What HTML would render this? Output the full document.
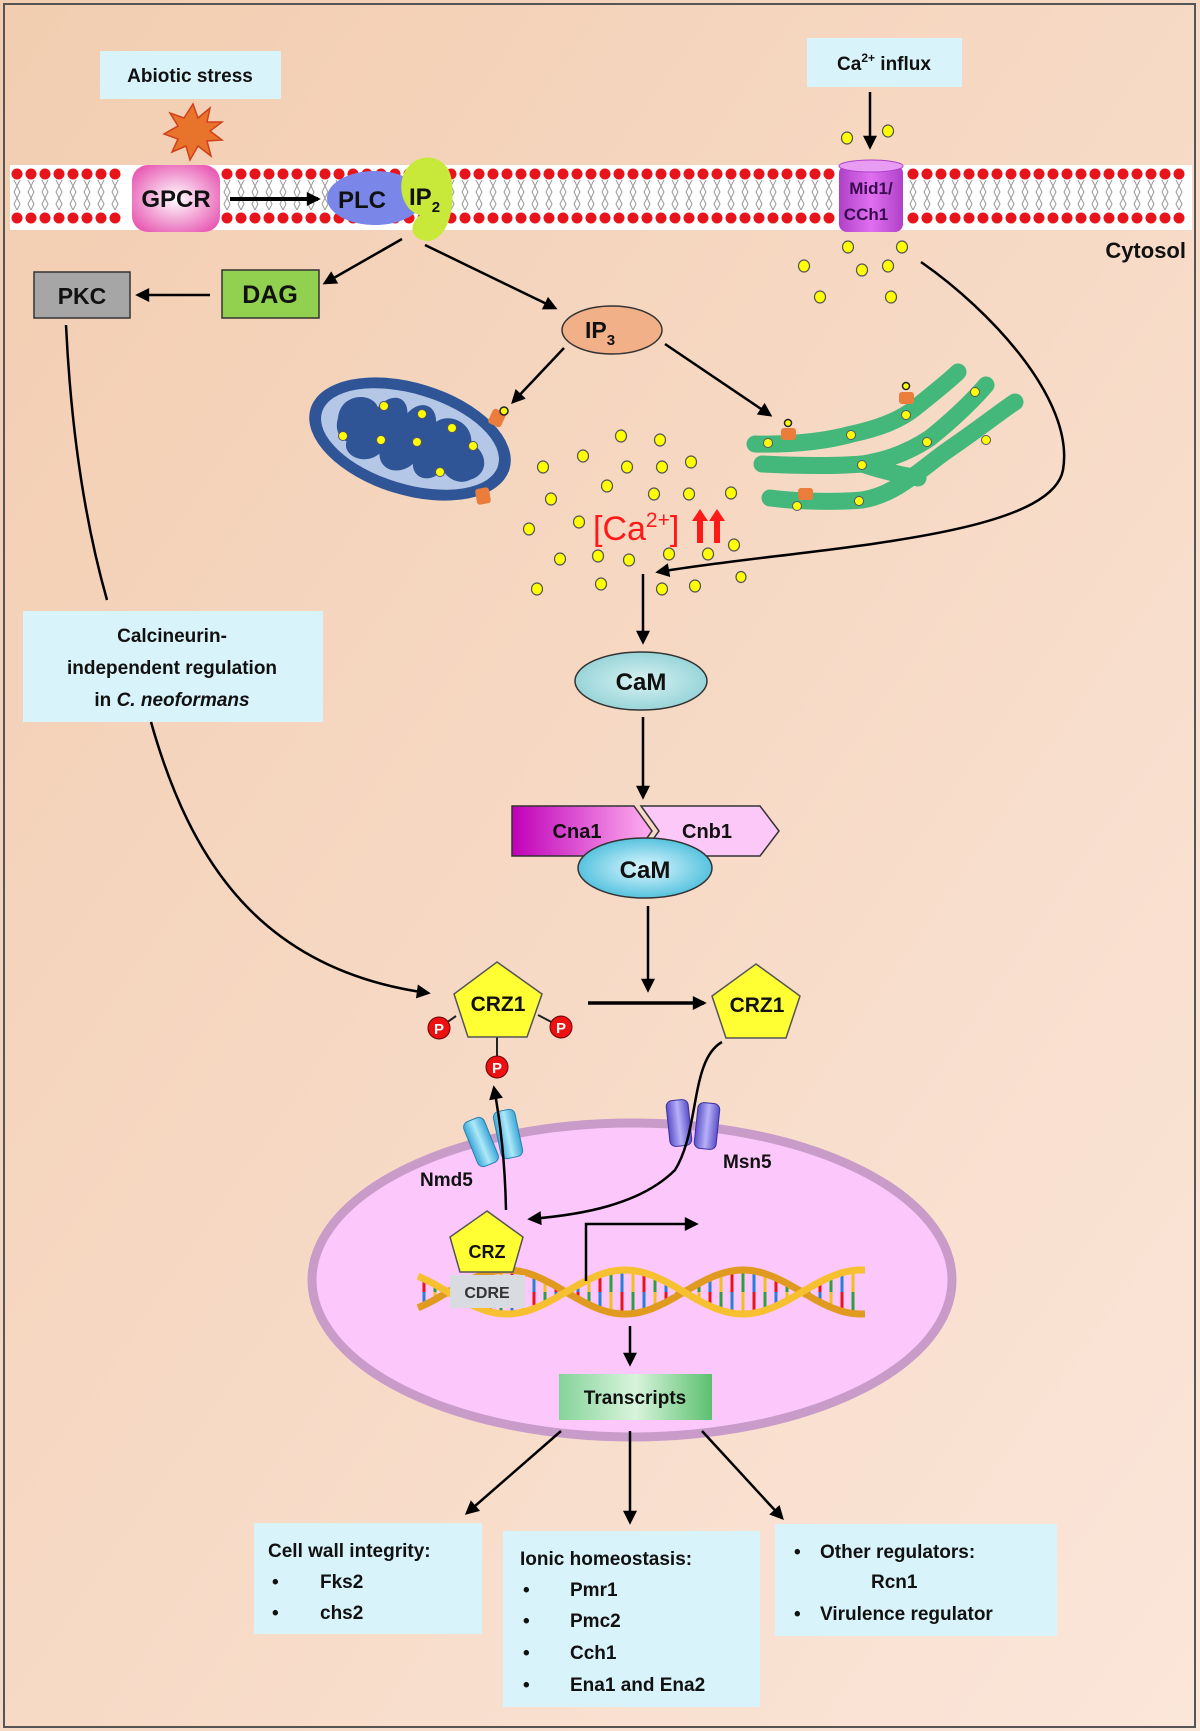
<!DOCTYPE html>
<html><head><meta charset="utf-8"><style>
html,body{margin:0;padding:0;}
svg{display:block;}
text{font-family:"Liberation Sans",sans-serif;font-weight:bold;fill:#111;}
</style></head><body>
<svg width="1200" height="1731" viewBox="0 0 1200 1731" xmlns="http://www.w3.org/2000/svg">
<defs>
<linearGradient id="bg" x1="0" y1="0" x2="1" y2="1">
<stop offset="0" stop-color="#f2cdb0"/><stop offset="1" stop-color="#fbe6da"/></linearGradient>
<radialGradient id="gpcr" cx="0.5" cy="0.5" r="0.6"><stop offset="0" stop-color="#fff"/><stop offset="1" stop-color="#e85cb4"/></radialGradient>
<radialGradient id="cam" cx="0.5" cy="0.5" r="0.6"><stop offset="0" stop-color="#dff8ff"/><stop offset="1" stop-color="#3cb8d8"/></radialGradient>
<radialGradient id="cam1" cx="0.5" cy="0.5" r="0.6"><stop offset="0" stop-color="#d8f2f2"/><stop offset="1" stop-color="#8ccfd4"/></radialGradient>
<linearGradient id="cna" x1="0" x2="1"><stop offset="0" stop-color="#c000b8"/><stop offset="1" stop-color="#ffb0f0"/></linearGradient>
<linearGradient id="tr" x1="0" x2="1"><stop offset="0" stop-color="#86d39a"/><stop offset="0.5" stop-color="#d8f4dc"/><stop offset="1" stop-color="#5cc070"/></linearGradient>
<linearGradient id="mid" x1="0" x2="1"><stop offset="0" stop-color="#b040c8"/><stop offset="0.5" stop-color="#e070f0"/><stop offset="1" stop-color="#b040c8"/></linearGradient>
<linearGradient id="chn" x1="0" x2="1"><stop offset="0" stop-color="#3ba8d8"/><stop offset="0.5" stop-color="#aee8f8"/><stop offset="1" stop-color="#3ba8d8"/></linearGradient>
<linearGradient id="chm" x1="0" x2="1"><stop offset="0" stop-color="#5a50c8"/><stop offset="0.5" stop-color="#b8b0f8"/><stop offset="1" stop-color="#5a50c8"/></linearGradient>
<marker id="ah" viewBox="0 0 10 10" refX="9" refY="5" markerWidth="5" markerHeight="5" orient="auto-start-reverse" markerUnits="userSpaceOnUse" style="overflow:visible">
<path d="M0,0 L10,5 L0,10 z" fill="#000"/></marker>
<marker id="a" viewBox="0 0 10 10" refX="8" refY="5" markerWidth="16" markerHeight="14" orient="auto" markerUnits="userSpaceOnUse"><path d="M0,0 L10,5 L0,10 z" fill="#000"/></marker>
<pattern id="dots" x="10" y="0" width="14" height="60" patternUnits="userSpaceOnUse">
<path d="M4,180 l3,5 -3,5 3,5 -3,5 3,5 -3,5 M10,180 l-3,5 3,5 -3,5 3,5 -3,5 3,5" stroke="#888" fill="none" stroke-width="1"/>
</pattern>
</defs>
<rect width="1200" height="1731" fill="url(#bg)"/>
<rect x="4" y="4" width="1191" height="1723" fill="none" stroke="#555" stroke-width="2"/>

<!-- membrane -->
<rect x="10" y="165" width="1182" height="65" fill="#fff"/>
<g stroke="#999" stroke-width="1" fill="none" id="tails">
<path d="M10,186 h1182 M10,196 h1182 M10,206" stroke="none"/>
</g>
<g id="mem"></g>

<!-- Abiotic stress -->
<rect x="100" y="51" width="181" height="48" fill="#d9f3fb"/>
<text x="190" y="82" font-size="19" text-anchor="middle">Abiotic stress</text>
<polygon points="193,104 198,118 210,108 207,122 222,122 210,131 222,140 207,141 211,156 198,146 190,160 186,146 172,152 178,139 164,134 178,126 170,113 184,118" fill="#e8742c" stroke="#d0401c" stroke-width="1.5"/>

<!-- Ca influx -->
<rect x="807" y="38" width="155" height="49" fill="#d9f3fb"/>
<text x="884" y="70" font-size="19" text-anchor="middle">Ca<tspan dy="-8" font-size="12">2+</tspan><tspan dy="8"> influx</tspan></text>
<line x1="870" y1="92" x2="870" y2="147" stroke="#000" stroke-width="2.5" marker-end="url(#a)"/>

<!-- GPCR -->
<rect x="132" y="165" width="88" height="67" rx="16" fill="url(#gpcr)"/>
<text x="176" y="207" font-size="24" text-anchor="middle">GPCR</text>
<line x1="230" y1="199" x2="318" y2="199" stroke="#000" stroke-width="4" marker-end="url(#a)"/>
<!-- PLC / IP2 -->
<ellipse cx="375" cy="198" rx="48" ry="27" fill="#7a86e8"/>
<path d="M410,165 C425,150 452,158 452,185 C455,215 445,240 428,241 C410,240 408,225 420,215 C400,210 395,178 410,165 z" fill="#c8e83a"/>
<text x="362" y="208" font-size="24" text-anchor="middle">PLC</text>
<text x="409" y="205" font-size="24">IP<tspan dy="7" font-size="15">2</tspan></text>

<!-- Mid1 -->
<rect x="839" y="165" width="64" height="67" rx="8" fill="url(#mid)"/>
<ellipse cx="871" cy="166" rx="32" ry="6" fill="#e89cf4" stroke="#b040c8"/>
<text x="871" y="194" font-size="17" text-anchor="middle" fill="#401050" style="fill:#3a0a50">Mid1/</text>
<text x="866" y="220" font-size="17" text-anchor="middle" style="fill:#3a0a50">CCh1</text>
<text x="1186" y="258" font-size="22" text-anchor="end">Cytosol</text>

<!-- DAG PKC -->
<line x1="402" y1="239" x2="325" y2="283" stroke="#000" stroke-width="2.5" marker-end="url(#a)"/>
<rect x="222" y="270" width="97" height="48" fill="#92d050" stroke="#333" stroke-width="1.5"/>
<text x="270" y="303" font-size="25" text-anchor="middle">DAG</text>
<line x1="210" y1="295" x2="138" y2="295" stroke="#000" stroke-width="2.5" marker-end="url(#a)"/>
<rect x="34" y="272" width="96" height="46" fill="#a6a6a6" stroke="#333" stroke-width="1.5"/>
<text x="82" y="304" font-size="23" text-anchor="middle">PKC</text>

<!-- IP3 -->
<line x1="425" y1="245" x2="555" y2="308" stroke="#000" stroke-width="2.5" marker-end="url(#a)"/>
<ellipse cx="612" cy="330" rx="50" ry="24" fill="#f2b088" stroke="#333" stroke-width="1.5"/>
<text x="600" y="338" font-size="23" text-anchor="middle">IP<tspan dy="7" font-size="15">3</tspan></text>
<line x1="564" y1="348" x2="513" y2="402" stroke="#000" stroke-width="2.5" marker-end="url(#a)"/>
<line x1="665" y1="344" x2="770" y2="415" stroke="#000" stroke-width="2.5" marker-end="url(#a)"/>

<!-- mitochondrion -->
<g transform="rotate(17 410 439)">
<ellipse cx="410" cy="439" rx="104" ry="56" fill="#2f5597"/>
<ellipse cx="410" cy="439" rx="92" ry="45" fill="#b4c7e7"/>
<path d="M335,440 C330,415 360,405 370,418 C378,400 395,398 400,415 C408,398 425,398 430,415 C440,402 465,405 470,425 C490,430 495,450 480,460 C470,470 455,465 450,458 C445,475 425,478 420,462 C410,478 390,478 385,462 C375,478 350,475 350,460 C340,458 335,450 335,440 z" fill="#2f5597"/>
</g>
<g fill="#ffff00" stroke="#556" stroke-width="1">
<circle cx="384" cy="406" r="4.5"/><circle cx="422" cy="414" r="4.5"/><circle cx="452" cy="428" r="4.5"/><circle cx="343" cy="436" r="4.5"/><circle cx="381" cy="440" r="4.5"/><circle cx="417" cy="442" r="4.5"/><circle cx="473" cy="446" r="4.5"/><circle cx="440" cy="472" r="4.5"/>
</g>
<rect x="490" y="410" width="14" height="16" rx="3" fill="#ea7d3c" transform="rotate(25 497 418)"/>
<rect x="476" y="488" width="14" height="16" rx="3" fill="#ea7d3c" transform="rotate(-10 483 496)"/>
<circle cx="504" cy="411" r="4" fill="#ffff00" stroke="#222" stroke-width="1.5"/>

<!-- ER -->
<g fill="none" stroke="#44b87a" stroke-width="17" stroke-linecap="round" stroke-linejoin="round">
<path d="M755,444 C800,445 830,440 852,434 C880,428 900,420 915,408 C935,392 950,380 958,372"/>
<path d="M762,464 C800,466 840,466 862,464 C890,460 912,450 930,438 C955,418 975,398 986,385"/>
<path d="M770,498 C800,502 840,502 862,500 C895,495 920,470 945,452 C980,428 1000,412 1015,402"/>
<path d="M862,464 C880,470 900,475 918,478"/>
</g>
<g fill="#ffff00" stroke="#556" stroke-width="1">
<circle cx="768" cy="443" r="4.5"/><circle cx="851" cy="435" r="4.5"/><circle cx="906" cy="415" r="4.5"/><circle cx="975" cy="392" r="4.5"/><circle cx="862" cy="465" r="4.5"/><circle cx="927" cy="442" r="4.5"/><circle cx="986" cy="440" r="4.5"/><circle cx="797" cy="506" r="4.5"/><circle cx="859" cy="501" r="4.5"/>
</g>
<rect x="781" y="428" width="15" height="12" rx="3" fill="#ea7d3c"/><circle cx="788" cy="423" r="3.5" fill="#ffff00" stroke="#222" stroke-width="1.5"/>
<rect x="899" y="392" width="15" height="12" rx="3" fill="#ea7d3c"/><circle cx="906" cy="386" r="3.5" fill="#ffff00" stroke="#222" stroke-width="1.5"/>
<rect x="798" y="488" width="15" height="12" rx="3" fill="#ea7d3c"/>

<!-- Ca dots -->
<g fill="#ffff00" stroke="#555" stroke-width="1.2">
<ellipse cx="847" cy="138" rx="5.5" ry="6"/><ellipse cx="888" cy="131" rx="5.5" ry="6"/>
<ellipse cx="848" cy="247" rx="5.5" ry="6"/><ellipse cx="902" cy="247" rx="5.5" ry="6"/><ellipse cx="804" cy="266" rx="5.5" ry="6"/><ellipse cx="862" cy="270" rx="5.5" ry="6"/><ellipse cx="888" cy="266" rx="5.5" ry="6"/><ellipse cx="820" cy="297" rx="5.5" ry="6"/><ellipse cx="891" cy="297" rx="5.5" ry="6"/>
<ellipse cx="621" cy="436" rx="5.5" ry="6"/><ellipse cx="660" cy="440" rx="5.5" ry="6"/><ellipse cx="583" cy="456" rx="5.5" ry="6"/><ellipse cx="543" cy="467" rx="5.5" ry="6"/><ellipse cx="627" cy="467" rx="5.5" ry="6"/><ellipse cx="662" cy="467" rx="5.5" ry="6"/><ellipse cx="691" cy="462" rx="5.5" ry="6"/><ellipse cx="607" cy="486" rx="5.5" ry="6"/><ellipse cx="654" cy="494" rx="5.5" ry="6"/><ellipse cx="689" cy="494" rx="5.5" ry="6"/><ellipse cx="731" cy="493" rx="5.5" ry="6"/><ellipse cx="551" cy="499" rx="5.5" ry="6"/><ellipse cx="529" cy="529" rx="5.5" ry="6"/><ellipse cx="579" cy="522" rx="5.5" ry="6"/><ellipse cx="734" cy="545" rx="5.5" ry="6"/><ellipse cx="560" cy="559" rx="5.5" ry="6"/><ellipse cx="598" cy="556" rx="5.5" ry="6"/><ellipse cx="629" cy="560" rx="5.5" ry="6"/><ellipse cx="669" cy="554" rx="5.5" ry="6"/><ellipse cx="708" cy="554" rx="5.5" ry="6"/><ellipse cx="741" cy="577" rx="5" ry="5.5"/><ellipse cx="537" cy="589" rx="5.5" ry="6"/><ellipse cx="601" cy="584" rx="5.5" ry="6"/><ellipse cx="662" cy="589" rx="5.5" ry="6"/><ellipse cx="695" cy="586" rx="5.5" ry="6"/>
</g>
<text x="593" y="540" font-size="34" style="fill:#ff1a1a;font-weight:normal">[Ca<tspan dy="-13" font-size="21">2+</tspan><tspan dy="13">]</tspan></text>
<g fill="#ff1a1a"><path d="M697,543 v-22 h-5 l8,-12 8,12 h-5 v22 z"/><path d="M714,543 v-22 h-5 l8,-12 8,12 h-5 v22 z"/></g>

<!-- curve Mid1 -> cloud -->
<path d="M921,262 C990,310 1075,400 1063,470 C1050,540 800,548 658,572" fill="none" stroke="#000" stroke-width="2.5" marker-end="url(#a)"/>

<!-- CaM path -->
<line x1="643" y1="574" x2="643" y2="642" stroke="#000" stroke-width="2.5" marker-end="url(#a)"/>
<ellipse cx="641" cy="681" rx="66" ry="29" fill="url(#cam1)" stroke="#333" stroke-width="1.5"/>
<text x="641" y="690" font-size="24" text-anchor="middle">CaM</text>
<line x1="643" y1="717" x2="643" y2="797" stroke="#000" stroke-width="2.5" marker-end="url(#a)"/>
<polygon points="512,806 634,806 652,831 634,856 512,856" fill="url(#cna)" stroke="#333" stroke-width="1.5"/>
<polygon points="641,806 760,806 779,831 760,856 641,856 659,831" fill="#fcc8f8" stroke="#333" stroke-width="1.5"/>
<text x="577" y="838" font-size="20" text-anchor="middle">Cna1</text>
<text x="707" y="838" font-size="20" text-anchor="middle">Cnb1</text>
<ellipse cx="645" cy="868" rx="67" ry="30" fill="url(#cam)" stroke="#333" stroke-width="1.5"/>
<text x="645" y="878" font-size="24" text-anchor="middle">CaM</text>
<line x1="648" y1="906" x2="648" y2="990" stroke="#000" stroke-width="2.5" marker-end="url(#a)"/>

<!-- Calcineurin-independent -->
<rect x="23" y="611" width="300" height="111" fill="#d9f3fb"/>
<text x="172" y="642" font-size="19" text-anchor="middle">Calcineurin-</text>
<text x="172" y="674" font-size="19" text-anchor="middle">independent regulation</text>
<text x="172" y="706" font-size="19" text-anchor="middle">in <tspan font-style="italic">C. neoformans</tspan></text>
<path d="M66,325 C72,450 90,540 107,600" fill="none" stroke="#000" stroke-width="2.5"/>
<path d="M151,722 C190,860 260,970 428,993" fill="none" stroke="#000" stroke-width="2.5" marker-end="url(#a)"/>

<!-- CRZ1 -->
<line x1="456" y1="1016" x2="439" y2="1028" stroke="#222" stroke-width="2"/>
<line x1="538" y1="1015" x2="561" y2="1027" stroke="#222" stroke-width="2"/>
<line x1="497" y1="1036" x2="497" y2="1067" stroke="#222" stroke-width="2"/>
<polygon points="497,962 542,994 527,1037 468,1037 454,994" fill="#ffff33" stroke="#555" stroke-width="1.5"/>
<text x="498" y="1011" font-size="21" text-anchor="middle">CRZ1</text>
<g fill="#ee1111" stroke="#600" stroke-width="1"><circle cx="439" cy="1028" r="11"/><circle cx="561" cy="1027" r="11"/><circle cx="497" cy="1067" r="11"/></g>
<g font-size="15" text-anchor="middle"><text x="439" y="1034" style="fill:#fff">P</text><text x="561" y="1033" style="fill:#fff">P</text><text x="497" y="1073" style="fill:#fff">P</text></g>
<line x1="588" y1="1003" x2="704" y2="1003" stroke="#000" stroke-width="3.5" marker-end="url(#a)"/>
<polygon points="756,964 800,996 786,1038 726,1038 712,996" fill="#ffff33" stroke="#555" stroke-width="1.5"/>
<text x="757" y="1012" font-size="21" text-anchor="middle">CRZ1</text>

<!-- nucleus -->
<ellipse cx="632" cy="1280" rx="320" ry="157" fill="#fcc8fc" stroke="#c89bc9" stroke-width="9"/>
<!-- channels -->
<rect x="470" y="1118" width="22" height="48" rx="6" fill="url(#chn)" stroke="#2a80b0" transform="rotate(-22 481 1142)"/>
<rect x="497" y="1110" width="22" height="48" rx="6" fill="url(#chn)" stroke="#2a80b0" transform="rotate(-12 508 1134)"/>
<rect x="668" y="1100" width="22" height="46" rx="6" fill="url(#chm)" stroke="#3a30a0" transform="rotate(-6 679 1123)"/>
<rect x="696" y="1103" width="22" height="46" rx="6" fill="url(#chm)" stroke="#3a30a0" transform="rotate(6 707 1126)"/>
<text x="420" y="1186" font-size="19">Nmd5</text>
<text x="723" y="1168" font-size="19">Msn5</text>
<path d="M506,1210 C505,1160 500,1120 494,1088" fill="none" stroke="#000" stroke-width="2.5" marker-end="url(#a)"/>
<path d="M722,1042 C690,1060 700,1130 675,1170 C640,1205 580,1215 530,1219" fill="none" stroke="#000" stroke-width="2.5" marker-end="url(#a)"/>

<!-- DNA -->
<g id="dna"></g>
<polygon points="487,1211 523,1237 513,1272 460,1272 450,1237" fill="#ffff33" stroke="#555" stroke-width="1.5"/>
<text x="487" y="1258" font-size="18" text-anchor="middle">CRZ</text>
<rect x="450" y="1275" width="75" height="33" fill="#d8dbe0"/>
<text x="487" y="1298" font-size="16" text-anchor="middle" style="fill:#333">CDRE</text>
<path d="M586,1281 V1224 H696" fill="none" stroke="#000" stroke-width="2.5" marker-end="url(#a)"/>
<line x1="630" y1="1326" x2="630" y2="1364" stroke="#000" stroke-width="2.5" marker-end="url(#a)"/>
<rect x="559" y="1374" width="153" height="46" fill="url(#tr)"/>
<text x="635" y="1404" font-size="19" text-anchor="middle">Transcripts</text>

<line x1="561" y1="1431" x2="467" y2="1513" stroke="#000" stroke-width="2.5" marker-end="url(#a)"/>
<line x1="630" y1="1431" x2="630" y2="1522" stroke="#000" stroke-width="2.5" marker-end="url(#a)"/>
<line x1="702" y1="1431" x2="782" y2="1518" stroke="#000" stroke-width="2.5" marker-end="url(#a)"/>

<!-- bottom boxes -->
<rect x="254" y="1523" width="228" height="111" fill="#d9f3fb"/>
<g font-size="19">
<text x="268" y="1557">Cell wall integrity:</text>
<text x="272" y="1588">•</text><text x="320" y="1588">Fks2</text>
<text x="272" y="1619">•</text><text x="320" y="1619">chs2</text>
</g>
<rect x="503" y="1531" width="257" height="176" fill="#d9f3fb"/>
<g font-size="19">
<text x="520" y="1565">Ionic homeostasis:</text>
<text x="523" y="1596">•</text><text x="570" y="1596">Pmr1</text>
<text x="523" y="1627">•</text><text x="570" y="1627">Pmc2</text>
<text x="523" y="1659">•</text><text x="570" y="1659">Cch1</text>
<text x="523" y="1691">•</text><text x="570" y="1691">Ena1 and Ena2</text>
</g>
<rect x="775" y="1524" width="282" height="112" fill="#d9f3fb"/>
<g font-size="19">
<text x="794" y="1558">•</text><text x="820" y="1558">Other regulators:</text>
<text x="871" y="1588">Rcn1</text>
<text x="794" y="1620">•</text><text x="820" y="1620">Virulence regulator</text>
</g>
</svg>
<script>
(function(){
var NS="http://www.w3.org/2000/svg";
var mem=document.getElementById("mem");
var s="";
for(var x=17;x<1192;x+=14){
 var skip=(x>126&&x<226)||(x>836&&x<906);
 if(!skip){
 s+='<path d="M'+(x-3)+',180 l3,6 -3,6 3,6 -3,6 3,6 M'+(x+3)+',180 l-3,6 3,6 -3,6 3,6 -3,6" stroke="#999" stroke-width="1" fill="none"/>';
 s+='<circle cx="'+x+'" cy="174" r="5.5" fill="#e8141c"/><circle cx="'+x+'" cy="218" r="5.5" fill="#e8141c"/>';
 }
}
mem.innerHTML=s;
// move membrane group just after white band (it is already)
var dna=document.getElementById("dna");
var d="";var cols=["#e8141c","#2e9e3e","#2a7ed8","#f0c020"];
var p1="",p2="";
for(var x=418;x<=867;x+=3){
 var y1=1292+22*Math.sin(2*Math.PI*(x-448)/236);
 var y2=1292-22*Math.sin(2*Math.PI*(x-448)/236);
 p1+=(x==418?"M":"L")+x+","+y1.toFixed(1);
 p2+=(x==418?"M":"L")+x+","+y2.toFixed(1);
}
var i=0;
for(var x=424;x<=862;x+=11){
 var a=22*Math.sin(2*Math.PI*(x-448)/236);
 var ya=1292-Math.abs(a),yb=1292+Math.abs(a);
 var m=(ya+yb)/2;
 d+='<line x1="'+x+'" y1="'+ya+'" x2="'+x+'" y2="'+m+'" stroke="'+cols[i%4]+'" stroke-width="3"/>';
 d+='<line x1="'+x+'" y1="'+m+'" x2="'+x+'" y2="'+yb+'" stroke="'+cols[(i+2)%4]+'" stroke-width="3"/>';
 i++;
}
d+='<path d="'+p2+'" fill="none" stroke="#e09a20" stroke-width="7"/>';
d+='<path d="'+p1+'" fill="none" stroke="#f6c030" stroke-width="7"/>';
dna.innerHTML=d;
})();
</script>
</body></html>
